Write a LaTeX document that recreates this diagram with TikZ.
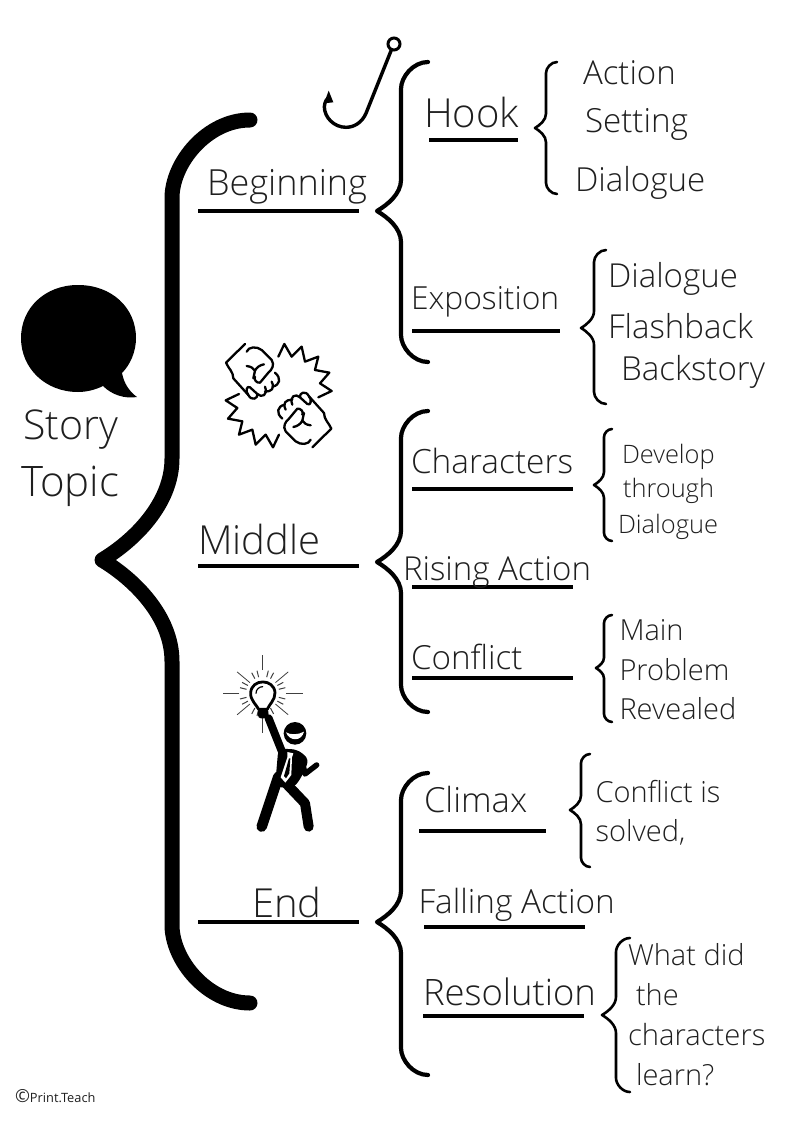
\documentclass[tikz,border=0pt]{standalone}
\usepackage{fontspec}
\setmainfont{Open Sans Light}
\newfontfamily\regfont{Open Sans}
\newcommand\BraceAt[8][]{% opts, tipx, top, spine, midtipx, midy, bottom, k
  \pgfmathsetmacro\rr{(#2-#4)}
  \pgfmathsetmacro\mm{(#4-#5)}
  \draw[#1] (#2,#3) .. controls ({#4+0.45*\rr},#3) and (#4,{#3+0.55*\rr}) .. (#4,{#3+\rr})
   -- (#4,{#6-#8*\mm}) .. controls (#4,{#6-0.55*#8*\mm}) and ({#5+0.45*\mm},{#6-0.27*\mm}) .. (#5,#6)
   .. controls ({#5+0.45*\mm},{#6+0.27*\mm}) and (#4,{#6+0.55*#8*\mm}) .. (#4,{#6+#8*\mm})
   -- (#4,{#7-\rr}) .. controls (#4,{#7-0.55*\rr}) and ({#4+0.45*\rr},#7) .. (#2,#7);}
\newcommand\Halffist{%
  \draw[fistline] (235,110)--(253,72)--(275,110)--(305,80)--(315,125)--(355,110)--(345,150)--(388,158)--(360,190)--(395,213)--(355,232);
  \draw[fistline] (135,72)--(78,128) .. controls (85,145) and (100,155) .. (100,175) -- (145,225);
  \draw[fistline] (140,95) .. controls (145,80) and (170,78) .. (185,90) -- (215,120) .. controls (225,135) and (215,150) .. (205,158) -- (180,188) .. controls (170,190) and (160,178) .. (165,170);
  \draw[fistline] (140,138) .. controls (155,140) and (160,145) .. (165,152) .. controls (170,142) and (180,135) .. (192,133);
  \draw[fistline] (165,152) -- (160,175);
  \draw[fistline] (145,225) .. controls (155,245) and (175,235) .. (172,222) -- (150,202) .. controls (140,195) and (135,215) .. (145,225);
  \draw[fistline] (172,222) .. controls (185,235) and (205,225) .. (195,200);
  \draw[fistline] (195,215) .. controls (215,215) and (225,205) .. (215,185);
  \draw[fistline] (218,200) .. controls (240,195) and (245,175) .. (225,158);
}
\tikzset{
  lab/.style={anchor=base west,inner sep=0pt,outer sep=0pt,text=black!88},
  rule/.style={line width=4pt,black},
  bigbrace/.style={line width=15pt,line cap=round,line join=round},
  midbrace/.style={line width=4.2pt,line cap=round,line join=round},
  smallbrace/.style={line width=2.6pt,line cap=round,line join=round},
  fistline/.style={line width=2.3pt,line cap=round,line join=round},
}
\newcommand\Lab[5]{\node[lab,font=\fontsize{#4}{#4}\selectfont] (#1) at (#2,#3) {#5};}
\begin{document}
\begin{tikzpicture}[x=1pt,y=-1pt]
\useasboundingbox (0,0) rectangle (794,1123);
\fill[white] (0,0) rectangle (794,1123);
% braces
\BraceAt[bigbrace]{250}{120}{172}{102}{560}{1003}{1.45}
\BraceAt[midbrace]{428}{62}{401}{377}{211}{362}{1.3}
\BraceAt[midbrace]{428}{411}{401}{377}{562}{712}{1.3}
\BraceAt[midbrace]{428}{773}{401}{377}{922}{1075}{1.3}
\BraceAt[smallbrace]{557}{62}{546}{535}{128}{194}{1.3}
\BraceAt[smallbrace]{606}{250}{594}{581}{328}{404}{1.3}
\BraceAt[smallbrace]{612}{429}{604}{594}{485}{541}{1.3}
\BraceAt[smallbrace]{612}{615}{604}{596}{668}{722}{1.3}
\BraceAt[smallbrace]{590}{754}{581}{570}{810}{867}{1.3}
\BraceAt[smallbrace]{630}{938}{616}{602}{1015}{1092}{1.3}
% rules
\foreach \a/\b/\y in {198/359/211.5,429/518/140.5,412/560/330.5,412/573/488.5,198/359/565.5,412/573/586.5,412/573/677.5,419/546/830.5,198/359/921.5,424/585/926.5,423/584/1015.5}
  \draw[rule] (\a,\y) -- (\b,\y);
% labels
\Lab{story}{23}{439}{41}{Story}
\Lab{topic}{21}{496}{42}{Topic}
\Lab{beginning}{207}{196}{36}{Beginning}
\Lab{middle}{198}{554}{40}{Middle}
\Lab{endd}{252}{917}{40}{End}
\Lab{hook}{424}{128}{40}{Hook}
\Lab{expo}{411}{309}{31.8}{Exposition}
\Lab{chars}{411}{473}{33.4}{Characters}
\Lab{rising}{403}{580}{33}{Rising Action}
\Lab{conflict}{411}{669}{33.2}{Conflict}
\Lab{climax}{424}{812}{34.6}{Climax}
\Lab{falling}{418.5}{913}{33.3}{Falling Action}
\Lab{resol}{423}{1005}{36.4}{Resolution}
\Lab{h1}{583}{85}{33}{Action}
\Lab{h2}{585}{133}{33.2}{Setting}
\Lab{h3}{575}{191.5}{33.1}{Dialogue}
\Lab{e1}{608}{287}{33}{Dialogue}
\Lab{e2}{608}{338}{33}{Flashback}
\Lab{e3}{621}{380}{33.1}{Backstory}
\Lab{c1}{622}{463}{25.4}{Develop}
\Lab{c2}{623}{497}{25.4}{through}
\Lab{c3}{618}{533}{25.4}{Dialogue}
\Lab{m1}{619.5}{640}{29}{Main}
\Lab{m2}{619.5}{680}{29}{Problem}
\Lab{m3}{619.5}{719}{29}{Revealed}
\Lab{s1}{595.5}{802}{29}{Conflict is}
\Lab{s2}{595.5}{841}{29}{solved,}
\Lab{r1}{628}{965}{29}{What did}
\Lab{r2}{636}{1005}{29}{the}
\Lab{r3}{628}{1045}{29.2}{characters}
\Lab{r4}{636}{1085}{29}{learn?}
\node[lab,font=\regfont\fontsize{12.8}{13}\selectfont] (copy) at (15,1102.5) {{\fontsize{18}{18}\selectfont ©}Print.Teach};
% speech bubble
\fill[black] (78,285) .. controls (112,285) and (136,308) .. (136,338)
  .. controls (136,352) and (130,365) .. (122,373)
  .. controls (124,384) and (130,392) .. (137,397)
  .. controls (125,399) and (112,395) .. (103,386)
  .. controls (95,390) and (86,392) .. (78,392)
  .. controls (45,392) and (21,368) .. (21,338)
  .. controls (21,308) and (45,285) .. (78,285) -- cycle;
% hook
\begin{scope}[shift={(310,30)},x=0.3333pt,y=-0.3333pt]
  \draw[line width=3pt] (252,42) circle[radius=18];
  \draw[line width=3.4pt,line cap=round] (244,60) -- (168,250) .. controls (155,280) and (130,292) .. (108,292) .. controls (72,292) and (43,262) .. (43,230) .. controls (43,222) and (46,215) .. (50,208);
  \fill (56,182) -- (42,220) -- (70,217) -- cycle;
\end{scope}
% fists
\begin{scope}[shift={(200,320)},x=0.3333pt,y=-0.3333pt]
  \Halffist
  \begin{scope}[rotate around={180:(236,227)}]\Halffist\end{scope}
\end{scope}
% idea man
\begin{scope}[shift={(210,650)},x=0.3333pt,y=-0.3333pt]
  \foreach \a/\ra/\rb in {0/70/120,90/70/120,180/70/118,270/70/115,40/50/100,140/50/100,220/50/100,320/50/100}
    \draw[line width=0.8pt,black!75] (158,130) ++(\a:\ra) -- ++(\a:\rb-\ra);
  \foreach \a in {14,28,62,76,104,118,152,166,194,208,242,256,284,298,332,346}
    \draw[line width=1pt,black!75] (158,130) ++(\a:50) -- ++(\a:20);
  \fill[white] (158,130) circle[radius=36];
  \draw[line width=2.8pt,line join=round,fill=white] (146,178) .. controls (140,165) and (120,150) .. (122,128) .. controls (125,85) and (192,85) .. (195,128) .. controls (196,150) and (176,165) .. (172,178) -- cycle;
  \draw[line width=1.2pt,line cap=round] (138,130) .. controls (138,118) and (148,110) .. (158,110);
  \fill[rounded corners=3pt] (144,176) rectangle (175,205);
  % arm and body
  \draw[line width=8pt,line cap=round,line join=round] (176,205) -- (218,310);
  \fill[rounded corners=6pt] (205,296) -- (262,298) -- (298,328) -- (270,390) -- (248,415) -- (195,410) -- cycle;
  \draw[line width=10.5pt,line cap=round] (205,380) -- (155,530);
  \draw[line width=10pt,line cap=round,line join=round] (228,400) -- (285,460) -- (296,530);
  \draw[line width=5.5pt,line cap=round,line join=round] (275,325) -- (285,372) -- (320,345);
  \fill[black] (255,250) circle[radius=34];
  \fill[white] (228,247) .. controls (240,255) and (265,255) .. (282,245) .. controls (275,275) and (238,275) .. (228,247) -- cycle;
  \fill[white] (232,306) -- (250,310) -- (246,322) -- (244,375) -- (226,398) -- (212,382) -- (232,322) -- cycle;
  \fill[black] (237,325) -- (241,325) -- (238,370) -- (228,385) -- (222,378) -- cycle;
\end{scope}
\end{tikzpicture}
\end{document}
